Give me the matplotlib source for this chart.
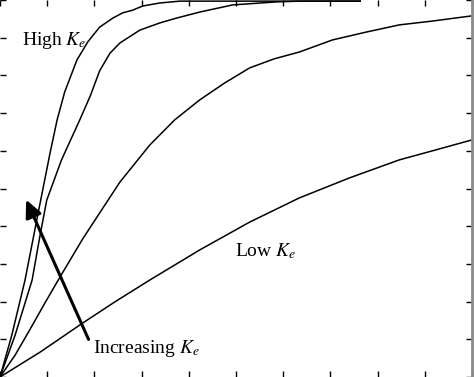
import numpy as np
import matplotlib
matplotlib.use("Agg")
import matplotlib.pyplot as plt

plt.rcParams['font.family'] = ['Liberation Serif', 'DejaVu Serif']
plt.rcParams['mathtext.fontset'] = 'stix'

# curves (x: 0-10, y: fraction 0-1)
x_high = [0, 0.25, 0.53, 0.80, 1.06, 1.21, 1.37, 1.63, 1.86, 2.11, 2.39, 2.60,
          2.81, 3.02, 3.38, 3.81, 7.63]
y_high = [0, 0.111, 0.257, 0.430, 0.594, 0.682, 0.756, 0.841, 0.889, 0.928, 0.952, 0.966,
          0.973, 0.984, 0.992, 0.997, 0.997]

x_mid1 = [0, 0.32, 0.68, 0.85, 0.99, 1.30, 1.50, 1.69, 1.92, 2.11, 2.33, 2.54,
          2.96, 3.38, 3.74, 4.23, 4.93, 5.86, 6.34, 7.63]
y_mid1 = [0, 0.111, 0.257, 0.377, 0.469, 0.575, 0.630, 0.682, 0.748, 0.812, 0.859, 0.886,
          0.920, 0.939, 0.952, 0.968, 0.987, 0.995, 0.997, 0.997]

x_mid2 = [0, 0.32, 0.63, 0.95, 1.27, 1.75, 2.11, 2.54, 3.17, 3.70, 4.23, 4.76,
          5.29, 5.81, 6.34, 7.04, 7.76, 8.46, 9.15, 10.0]
y_mid2 = [0, 0.058, 0.125, 0.196, 0.265, 0.366, 0.435, 0.517, 0.615, 0.682, 0.735, 0.780,
          0.820, 0.844, 0.862, 0.894, 0.915, 0.934, 0.944, 0.958]

x_low = [0, 0.85, 1.75, 2.43, 3.17, 4.23, 5.29, 6.34, 7.40, 8.46, 9.22, 10.0]
y_low = [0, 0.066, 0.143, 0.199, 0.257, 0.337, 0.411, 0.475, 0.528, 0.576, 0.602, 0.629]

fig = plt.figure(figsize=(4.74, 3.77), dpi=100)
ax = fig.add_axes([0, 0, 0.996, 1])

for xs, ys in [(x_high, y_high), (x_mid1, y_mid1), (x_mid2, y_mid2), (x_low, y_low)]:
    ax.plot(xs, ys, color='black', lw=1.1)

ax.set_xlim(0, 10)
ax.set_ylim(0, 1)
ax.set_xticks(range(0, 11))
ax.set_yticks(np.arange(0, 1.01, 0.1))
ax.tick_params(direction='in', length=4, width=1, top=True, right=True,
               labelbottom=False, labelleft=False)
for side in ['left', 'top', 'bottom']:
    ax.spines[side].set_visible(False)
ax.spines['right'].set_color('#8a8a8a')
ax.spines['right'].set_linewidth(2)

ax.text(0.47, 0.893, r'High $K_e$', fontsize=14, va='center')
ax.text(4.97, 0.335, r'Low $K_e$', fontsize=14, va='center')
ax.text(1.96, 0.075, r'Increasing $K_e$', fontsize=14, va='center')

ax.annotate('', xy=(0.53, 0.477), xytext=(1.90, 0.093),
            arrowprops=dict(arrowstyle='-|>,head_length=1.05,head_width=0.5',
                            color='black', lw=2.2))

fig.savefig('out.png', dpi=100)
